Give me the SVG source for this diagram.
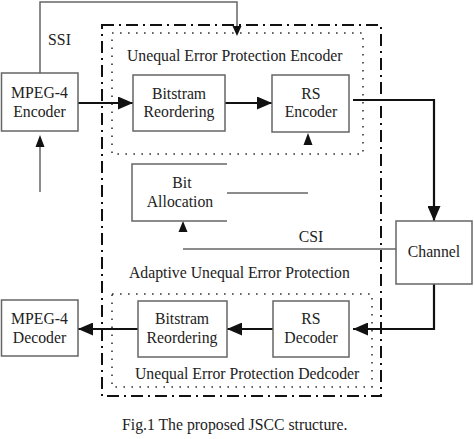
<svg xmlns="http://www.w3.org/2000/svg" width="474" height="439" viewBox="0 0 474 439">
<defs>
<style>
text{font-family:'Liberation Serif','Times New Roman','DejaVu Serif',serif;font-size:15.75px;fill:#222}
.box{fill:#fff;stroke:#666;stroke-width:1.5}
.thick{fill:none;stroke:#111;stroke-width:2.2}
.thin{fill:none;stroke:#666;stroke-width:1.5}
.head{fill:#111;stroke:none}
.dashdot{fill:none;stroke:#111;stroke-width:2;stroke-dasharray:12 5 2 5}
.dotted{fill:none;stroke:#333;stroke-width:1.6;stroke-dasharray:1.6 6.4}
.c{text-anchor:middle}
</style>
<marker id="ah" markerUnits="userSpaceOnUse" markerWidth="16" markerHeight="13" refX="15" refY="6.5" orient="auto">
<path d="M0,0 L15,6.5 L0,13 z" fill="#111"/>
</marker>
</defs>
<rect width="474" height="439" fill="#fff"/>

<g id="frames">
<rect class="dashdot" x="102" y="25" width="279" height="371"/>
<rect class="dotted" x="112" y="33" width="251" height="121"/>
<rect class="dotted" x="112" y="294" width="260" height="93"/>
</g>

<g id="connectors">
<path class="thin" d="M40,73 V2 H237 V28"/>
<path class="head" d="M232.5,26 L241.5,26 L237,36 z"/>
<path class="thin" d="M40,192 V146"/>
<path class="head" d="M35.5,147 L44.5,147 L40,135 z"/>
<path class="thick" d="M78,103 H133" marker-end="url(#ah)"/>
<path class="thick" d="M225,103 H272" marker-end="url(#ah)"/>
<path class="thick" d="M353,100 H434 V221" marker-end="url(#ah)"/>
<path class="thick" d="M434,284 V329 H353" marker-end="url(#ah)"/>
<path class="thick" d="M273,329 H227" marker-end="url(#ah)"/>
<path class="thick" d="M138,329 H78" marker-end="url(#ah)"/>
<path class="thin" d="M227,193 H308"/>
<path class="head" d="M303.5,145 L312.5,145 L308,133 z"/>
<path class="thin" d="M183,249 H396"/>
<path class="head" d="M178.5,232 L187.5,232 L183,221 z"/>
</g>

<g font-family="'Liberation Serif','DejaVu Serif',serif">
<g id="mpeg4-encoder">
<rect class="box" x="1.5" y="73" width="76.5" height="58"/>
<text class="c" x="39.5" y="98">MPEG-4</text>
<text class="c" x="39.5" y="117">Encoder</text>
</g>

<g id="bitstream-reordering-enc">
<rect class="box" x="133" y="75" width="92" height="56"/>
<text class="c" x="179" y="99">Bitstram</text>
<text class="c" x="179" y="117">Reordering</text>
</g>

<g id="rs-encoder">
<rect class="box" x="272" y="75" width="77" height="57"/>
<text class="c" x="311" y="99">RS</text>
<text class="c" x="311" y="117">Encoder</text>
</g>

<g id="bit-allocation">
<path class="box" d="M227,164 H132 V221 H227"/>
<text class="c" x="182" y="188">Bit</text>
<text class="c" x="180" y="207">Allocation</text>
</g>

<g id="channel">
<rect class="box" x="396" y="221" width="76" height="63"/>
<text class="c" x="434" y="257">Channel</text>
</g>

<g id="mpeg4-decoder">
<rect class="box" x="1.5" y="300" width="76.5" height="56"/>
<text class="c" x="39.5" y="324">MPEG-4</text>
<text class="c" x="39.5" y="343">Decoder</text>
</g>

<g id="bitstream-reordering-dec">
<rect class="box" x="138" y="301" width="89" height="56"/>
<text class="c" x="182" y="324">Bitstram</text>
<text class="c" x="182" y="343">Reordering</text>
</g>

<g id="rs-decoder">
<rect class="box" x="273" y="301" width="76" height="56"/>
<text class="c" x="311" y="324">RS</text>
<text class="c" x="311" y="343">Decoder</text>
</g>

<g id="labels">
<text class="c" x="59.5" y="45">SSI</text>
<text x="127" y="61">Unequal Error Protection Encoder</text>
<text class="c" x="311" y="242">CSI</text>
<text x="129" y="278">Adaptive Unequal Error Protection</text>
<text x="135" y="379">Unequal Error Protection Dedcoder</text>
<text x="122" y="430">Fig.1 The proposed JSCC structure.</text>
</g>
</g>
</svg>
